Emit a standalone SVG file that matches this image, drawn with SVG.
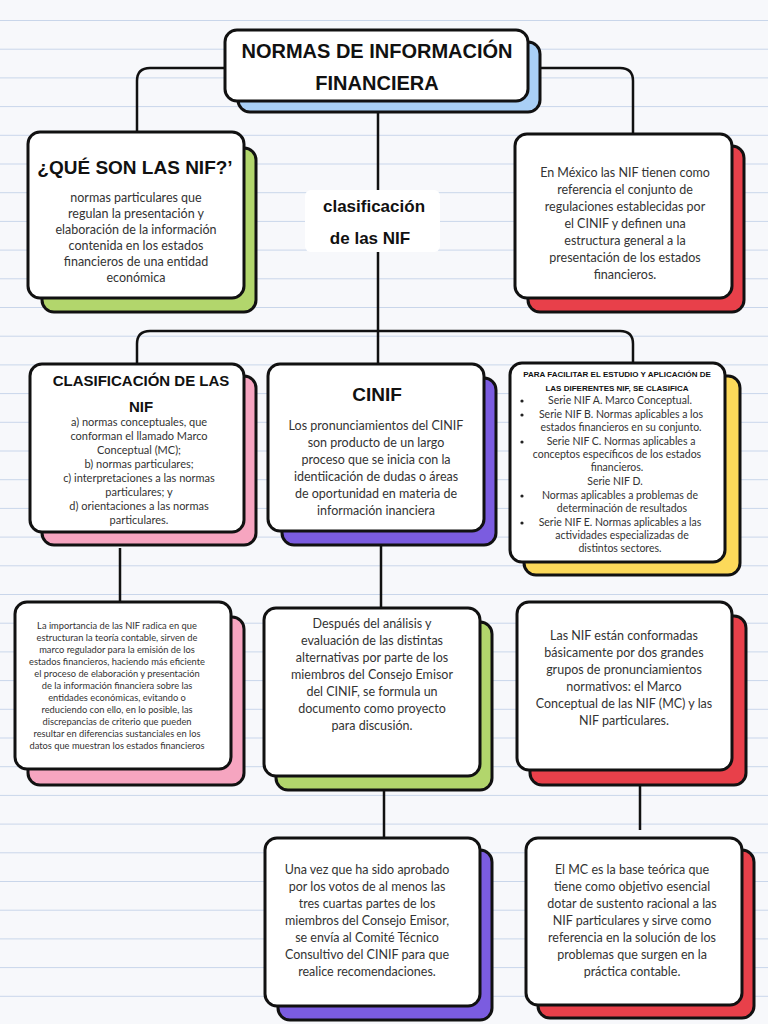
<svg xmlns="http://www.w3.org/2000/svg" width="768" height="1024" viewBox="0 0 768 1024">
<defs>
<pattern id="lines" x="0" y="20" width="768" height="28.7" patternUnits="userSpaceOnUse">
<line x1="0" y1="0.5" x2="768" y2="0.5" stroke="#c9d6ea" stroke-width="1.2"/>
</pattern>
<style>
.card{fill:#fff;stroke:#111;stroke-width:3}
.sh{stroke:#111;stroke-width:3}
.t{font-family:Lato,"Noto Sans",sans-serif;fill:#333;text-anchor:middle}
.h{font-family:"Liberation Sans",sans-serif;font-weight:bold;fill:#111;text-anchor:middle}
.c{fill:none;stroke:#111;stroke-width:2.5}
</style>
</defs>
<rect width="768" height="1024" fill="#f7f8fb"/>
<rect width="768" height="1024" fill="url(#lines)"/>
<g id="connectors">
<path class="c" d="M225 68 H150 Q137 68 137 81 V132"/>
<path class="c" d="M528 68 H620 Q633 68 633 81 V134"/>
<path class="c" d="M378 112 V190 M378 252 V364"/>
<path class="c" d="M137 364 V344 Q137 331 150 331 H620 Q633 331 633 344 V363"/>
<path class="c" d="M120 548 V603 M381 545 V608 M384 790 V838 M640 785 V830"/>
</g>
<g id="title">
<rect class="sh" x="238" y="42" width="302" height="70" rx="12" fill="#a9cff5"/>
<rect class="card" x="225" y="30" width="303" height="71" rx="12"/>
<text class="h" x="377" y="58" font-size="20">NORMAS DE INFORMACIÓN</text>
<text class="h" x="377" y="90" font-size="20">FINANCIERA</text>
</g>
<g id="que">
<rect class="sh" x="42" y="148" width="214" height="164" rx="12" fill="#b2d66c"/>
<rect class="card" x="28" y="132" width="216" height="166" rx="12"/>
<text class="h" x="135" y="174" font-size="19">¿QUÉ SON LAS NIF?’</text>
<text class="t" font-size="12.5"><tspan x="136" y="202">normas particulares que</tspan><tspan x="136" y="218">regulan la presentación y</tspan><tspan x="136" y="234">elaboración de la información</tspan><tspan x="136" y="250">contenida en los estados</tspan><tspan x="136" y="266">financieros de una entidad</tspan><tspan x="136" y="282">económica</tspan></text>
</g>
<g id="clasif">
<rect x="305" y="190" width="135" height="62" rx="6" fill="#fff"/>
<text class="h" x="374" y="212" font-size="17">clasificación</text>
<text class="h" x="370" y="244" font-size="17">de las NIF</text>
</g>
<g id="mexico">
<rect class="sh" x="528" y="146" width="216" height="166" rx="12" fill="#e8404a"/>
<rect class="card" x="515" y="134" width="217" height="164" rx="12"/>
<text class="t" font-size="12.5"><tspan x="625" y="177">En México las NIF tienen como</tspan><tspan x="625" y="194">referencia el conjunto de</tspan><tspan x="625" y="211">regulaciones establecidas por</tspan><tspan x="625" y="228">el CINIF y definen una</tspan><tspan x="625" y="245">estructura general a la</tspan><tspan x="625" y="262">presentación de los estados</tspan><tspan x="625" y="279">financieros.</tspan></text>
</g>
<g id="clasificacion">
<rect class="sh" x="42" y="376" width="214" height="169" rx="12" fill="#f6a5c0"/>
<rect class="card" x="30" y="364" width="214" height="168" rx="12"/>
<text class="h" x="141" y="386" font-size="15">CLASIFICACIÓN DE LAS</text>
<text class="h" x="141" y="412" font-size="15">NIF</text>
<text class="t" font-size="11"><tspan x="139" y="426">a) normas conceptuales, que</tspan><tspan x="139" y="440">conforman el llamado Marco</tspan><tspan x="139" y="454">Conceptual (MC);</tspan><tspan x="139" y="468">b) normas particulares;</tspan><tspan x="139" y="482">c) interpretaciones a las normas</tspan><tspan x="139" y="496">particulares; y</tspan><tspan x="139" y="510">d) orientaciones a las normas</tspan><tspan x="139" y="524">particulares.</tspan></text>
</g>
<g id="cinif">
<rect class="sh" x="282" y="378" width="214" height="167" rx="12" fill="#7b5ce0"/>
<rect class="card" x="268" y="364" width="216" height="167" rx="12"/>
<text class="h" x="377" y="401" font-size="19">CINIF</text>
<text class="t" font-size="12.5"><tspan x="376" y="430">Los pronunciamientos del CINIF</tspan><tspan x="376" y="447">son producto de un largo</tspan><tspan x="376" y="464">proceso que se inicia con la</tspan><tspan x="376" y="481">identiicación de dudas o áreas</tspan><tspan x="376" y="498">de oportunidad en materia de</tspan><tspan x="376" y="515">información inanciera</tspan></text>
</g>
<g id="series">
<rect class="sh" x="524" y="376" width="216" height="199" rx="12" fill="#fcd95a"/>
<rect class="card" x="510" y="363" width="215" height="199" rx="12"/>
<text class="h" x="617" y="377" font-size="8">PARA FACILITAR EL ESTUDIO Y APLICACIÓN DE</text>
<text class="h" x="617" y="391" font-size="8">LAS DIFERENTES NIF, SE CLASIFICA</text>
<g fill="#222"><circle cx="522" cy="401" r="1.6"/><circle cx="522" cy="415" r="1.6"/><circle cx="522" cy="442" r="1.6"/><circle cx="522" cy="496" r="1.6"/><circle cx="522" cy="523" r="1.6"/></g>
<text class="t" font-size="10.5"><tspan x="620" y="404">Serie NIF A. Marco Conceptual.</tspan><tspan x="621" y="418">Serie NIF B. Normas aplicables a los</tspan><tspan x="621" y="431">estados financieros en su conjunto.</tspan><tspan x="621" y="445">Serie NIF C. Normas aplicables a</tspan><tspan x="617" y="458">conceptos específicos de los estados</tspan><tspan x="617" y="471">financieros.</tspan><tspan x="615" y="485">Serie NIF D.</tspan><tspan x="620" y="499">Normas aplicables a problemas de</tspan><tspan x="622" y="512">determinación de resultados</tspan><tspan x="620" y="526">Serie NIF E. Normas aplicables a las</tspan><tspan x="622" y="539">actividades especializadas de</tspan><tspan x="620" y="552">distintos sectores.</tspan></text>
</g>
<g id="importancia">
<rect class="sh" x="28" y="617" width="216" height="168" rx="12" fill="#f6a5c0"/>
<rect class="card" x="15" y="602" width="216" height="167" rx="12"/>
<text class="t" font-size="9.3"><tspan x="117" y="629">La importancia de las NIF radica en que</tspan><tspan x="117" y="641">estructuran la teoría contable,  sirven de</tspan><tspan x="117" y="653">marco regulador para la emisión de los</tspan><tspan x="117" y="665">estados financieros, haciendo más eficiente</tspan><tspan x="117" y="677">el proceso de elaboración y presentación</tspan><tspan x="117" y="689">de la información financiera sobre las</tspan><tspan x="117" y="701">entidades económicas, evitando o</tspan><tspan x="117" y="713">reduciendo con ello, en lo posible, las</tspan><tspan x="117" y="725">discrepancias de criterio que pueden</tspan><tspan x="117" y="737">resultar en diferencias sustanciales en los</tspan><tspan x="117" y="749">datos que muestran los estados financieros</tspan></text>
</g>
<g id="despues">
<rect class="sh" x="276" y="622" width="216" height="168" rx="12" fill="#b2d66c"/>
<rect class="card" x="264" y="608" width="216" height="168" rx="12"/>
<text class="t" font-size="12.5"><tspan x="372" y="628">Después del análisis y</tspan><tspan x="372" y="645">evaluación de las distintas</tspan><tspan x="372" y="662">alternativas por parte de los</tspan><tspan x="372" y="679">miembros del Consejo Emisor</tspan><tspan x="372" y="696">del CINIF, se formula un</tspan><tspan x="372" y="713">documento como proyecto</tspan><tspan x="372" y="730">para discusión.</tspan></text>
</g>
<g id="conformadas">
<rect class="sh" x="530" y="616" width="216" height="169" rx="12" fill="#e8404a"/>
<rect class="card" x="517" y="602" width="215" height="168" rx="12"/>
<text class="t" font-size="12.5"><tspan x="624" y="640">Las NIF están conformadas</tspan><tspan x="624" y="657">básicamente por dos grandes</tspan><tspan x="624" y="674">grupos de pronunciamientos</tspan><tspan x="624" y="691">normativos: el Marco</tspan><tspan x="624" y="708">Conceptual de las NIF (MC) y las</tspan><tspan x="624" y="725">NIF particulares.</tspan></text>
</g>
<g id="aprobado">
<rect class="sh" x="278" y="850" width="214" height="170" rx="12" fill="#7b5ce0"/>
<rect class="card" x="265" y="838" width="215" height="168" rx="12"/>
<text class="t" font-size="12.5"><tspan x="367" y="874">Una vez que ha sido aprobado</tspan><tspan x="367" y="891">por los votos de al menos las</tspan><tspan x="367" y="908">tres cuartas partes de los</tspan><tspan x="367" y="925">miembros del Consejo Emisor,</tspan><tspan x="367" y="942">se envía al Comité Técnico</tspan><tspan x="367" y="959">Consultivo del CINIF para que</tspan><tspan x="367" y="976">realice recomendaciones.</tspan></text>
</g>
<g id="mc">
<rect class="sh" x="538" y="850" width="216" height="168" rx="12" fill="#e8404a"/>
<rect class="card" x="526" y="838" width="216" height="167" rx="12"/>
<text class="t" font-size="12.5"><tspan x="632" y="874">El MC es la base teórica que</tspan><tspan x="632" y="891">tiene como objetivo esencial</tspan><tspan x="632" y="908">dotar de sustento racional a las</tspan><tspan x="632" y="925">NIF particulares y sirve como</tspan><tspan x="632" y="942">referencia en la solución de los</tspan><tspan x="632" y="959">problemas que surgen en la</tspan><tspan x="632" y="976">práctica contable.</tspan></text>
</g>
</svg>
